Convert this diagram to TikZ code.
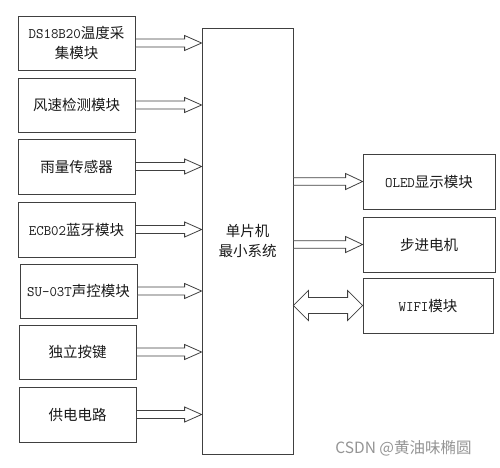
\documentclass[tikz,border=0pt]{standalone}
\usepackage{fontspec}
\usetikzlibrary{calc}
\newfontfamily\cjk{Noto Sans CJK SC}
\newcommand\latw[1]{{\ttfamily\fontsize{14.5}{19}\selectfont #1}}
\newcommand\hollowR[5]{% from #1.east to #2.west at y of #3; shaft half #4, head half #5
  \draw[arr] let \p1=(#1.east), \p2=(#2.west), \p3=(#3) in
    (\x1,\y3+#4) -- (\x2-17pt,\y3+#4) -- (\x2-17pt,\y3+#5) -- (\x2,\y3)
    -- (\x2-17pt,\y3-#5) -- (\x2-17pt,\y3-#4) -- (\x1,\y3-#4) -- cycle;}
\newcommand\hollowLR[5]{%
  \draw[arr] let \p1=(#1.east), \p2=(#2.west), \p3=(#3) in
    (\x1,\y3) -- (\x1+15pt,\y3+#5) -- (\x1+15pt,\y3+#4) -- (\x2-15pt,\y3+#4)
    -- (\x2-15pt,\y3+#5) -- (\x2,\y3) -- (\x2-15pt,\y3-#5) -- (\x2-15pt,\y3-#4)
    -- (\x1+15pt,\y3-#4) -- (\x1+15pt,\y3-#5) -- cycle;}
\begin{document}
\begin{tikzpicture}[x=1pt,y=-1pt,
  box/.style={draw=black!75, line width=0.8pt, fill=white, inner sep=0pt,
    minimum width=117pt, minimum height=54pt, align=center,
    font=\cjk\fontsize{14.5}{19.5}\selectfont, text=black!90},
  rbox/.style={box, minimum width=132pt, minimum height=55pt},
  arr/.style={draw=black!75, line width=0.8pt, fill=white}]
\useasboundingbox (0,0) rectangle (500,467);
% main controller
\node[box, minimum width=91pt, minimum height=426pt] (mcu) at (247.5,241) {单片机\\最小系统};
% left modules
\node[box] (b1) at (76.5,43) {\latw{DS18B20}温度采\\集模块};
\node[box] (b2) at (76.5,105) {风速检测模块};
\node[box, minimum height=55pt] (b3) at (76.5,166.5) {雨量传感器};
\node[box, minimum height=55pt] (b4) at (76.5,229.5) {\latw{ECB02}蓝牙模块};
\node[box] (b5) at (78.5,291) {\latw{SU-03T}声控模块};
\node[box] (b6) at (77.5,352) {独立按键};
\node[box, minimum height=55pt] (b7) at (77.5,414.5) {供电电路};
% right modules
\node[rbox] (r1) at (429,181.5) {\latw{OLED}显示模块};
\node[rbox] (r2) at (429,244.5) {步进电机};
\node[rbox, minimum width=130pt] (r3) at (428,305.5) {\latw{WIFI}模块};
% arrows
\foreach \b in {b1,b2,b3,b4,b5,b6,b7} {\hollowR{\b}{mcu}{\b}{4pt}{7.5pt}}
\hollowR{mcu}{r1}{r1}{3.8pt}{8pt}
\hollowR{mcu}{r2}{r2}{3.8pt}{8pt}
\hollowLR{mcu}{r3}{r3}{8pt}{15pt}
% watermark
\node[font=\cjk\fontsize{15.5}{18}\selectfont, text=black!42, anchor=center] (wm) at (403.5,448) {CSDN @黄油味椭圆};
\end{tikzpicture}
\end{document}
